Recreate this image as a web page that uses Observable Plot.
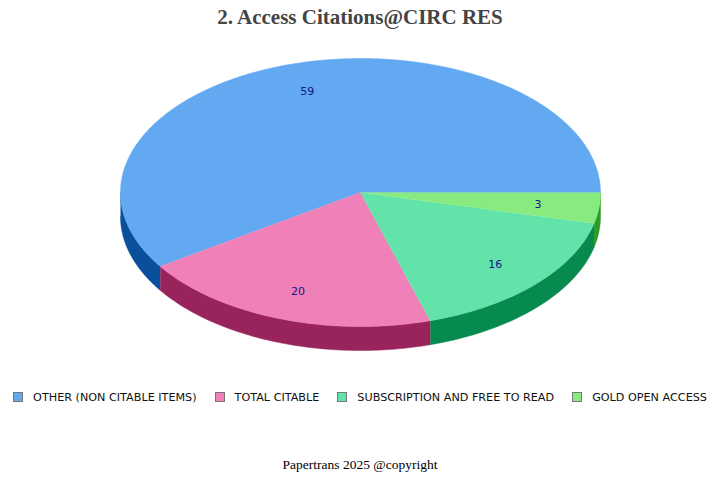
<!DOCTYPE html>
<html><head><meta charset="utf-8">
<script src="https://cdn.jsdelivr.net/npm/d3@7"></script>
<script src="https://cdn.jsdelivr.net/npm/@observablehq/plot@0.6"></script>
<style>
body{margin:0;background:#fff;width:720px;height:480px;overflow:hidden;font-family:"DejaVu Sans",sans-serif}
#title{height:36px;text-align:center;font:bold 21px "Liberation Serif","Times New Roman",serif;color:#444;line-height:35px}
#chart{height:340px}
#chart svg{display:block}
#legend{display:flex;justify-content:center;align-items:center;height:22px;margin-top:10px;font-size:11.2px;color:#111}
#legend .item{display:flex;align-items:center;margin:0 9px}
#legend .sw{width:8px;height:8px;border:1px solid #777;margin-right:10px}
#footer{position:absolute;top:457px;left:0;width:720px;text-align:center;font:13.5px "Liberation Serif","Times New Roman",serif;color:#000}
</style></head><body>
<div id="title">2. Access Citations@CIRC RES</div>
<div id="chart"></div>
<div id="legend"></div>
<div id="footer">Papertrans 2025 @copyright</div>
<script>
const categories = ["OTHER (NON CITABLE ITEMS)", "TOTAL CITABLE", "SUBSCRIPTION AND FREE TO READ", "GOLD OPEN ACCESS"];
const values = [59.3, 20.4, 16.6, 3.7];
const labels = ["59", "20", "16", "3"];
const topColors = ["#62a9f2", "#f081b8", "#62e3aa", "#88eb80"];
const sideColors = ["#0a4f9b", "#98245b", "#078a4e", "#2e9a27"];

// layout (pixels)
const W = 720, H = 340, RX = 240, RY = 134, CY = 156, DEPTH = 24;
const depth = DEPTH / RY;

const total = d3.sum(values);
let acc = 0;
const slices = values.map((v, i) => {
  const a0 = acc / total * 2 * Math.PI;
  acc += v;
  const a1 = acc / total * 2 * Math.PI;
  return {i, a0, a1, key: categories[i]};
});

function arc(a0, a1) {
  const n = Math.max(2, Math.ceil((a1 - a0) / (Math.PI / 180)));
  return d3.range(n + 1).map(k => a0 + (a1 - a0) * k / n);
}

const sides = [];
for (const s of slices) {
  const b0 = Math.max(s.a0, Math.PI), b1 = Math.min(s.a1, 2 * Math.PI);
  if (b1 <= b0) continue;
  const pts = arc(b0, b1);
  pts.forEach(a => sides.push({key: s.key, x: Math.cos(a), y: Math.sin(a), c: sideColors[s.i]}));
  pts.slice().reverse().forEach(a => sides.push({key: s.key, x: Math.cos(a), y: Math.sin(a) - depth, c: sideColors[s.i]}));
}

const tops = [];
for (const s of slices) {
  tops.push({key: s.key, x: 0, y: 0, c: topColors[s.i]});
  arc(s.a0, s.a1).forEach(a => tops.push({key: s.key, x: Math.cos(a), y: Math.sin(a), c: topColors[s.i]}));
}

const labelData = slices.map(s => {
  const m = (s.a0 + s.a1) / 2;
  const rx = s.i === 3 ? 0.745 : 0.77;
  const ry = s.i === 3 ? 0.745 : 0.785;
  return {x: rx * Math.cos(m), y: ry * Math.sin(m), t: labels[s.i]};
});

const chart = Plot.plot({
  width: W, height: H,
  margin: 0,
  x: {domain: [-W / 2 / RX, W / 2 / RX], axis: null},
  y: {domain: [-(H - CY) / RY, CY / RY], axis: null},
  color: {type: "identity"},
  marks: [
    Plot.line(sides, {x: "x", y: "y", z: "key", fill: "c", stroke: "c", strokeWidth: 0.5}),
    Plot.line(tops, {x: "x", y: "y", z: "key", fill: "c", stroke: "c", strokeWidth: 0.5}),
    Plot.text(labelData, {x: "x", y: "y", text: "t", fill: "#14148a", fontSize: 11, fontFamily: "DejaVu Sans"})
  ]
});
document.getElementById("chart").appendChild(chart);

const legend = document.getElementById("legend");
categories.forEach((c, i) => {
  const it = document.createElement("div");
  it.className = "item";
  const sw = document.createElement("span");
  sw.className = "sw";
  sw.style.background = topColors[i];
  const tx = document.createElement("span");
  tx.textContent = c;
  it.appendChild(sw); it.appendChild(tx);
  legend.appendChild(it);
});
</script>
</body></html>
